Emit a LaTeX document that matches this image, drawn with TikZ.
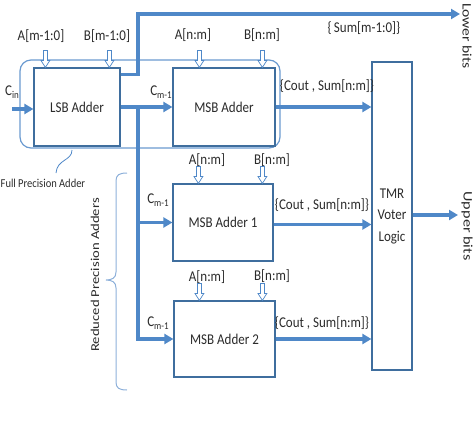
\documentclass[tikz,border=0pt]{standalone}
\usepackage{fontspec}
\setmainfont{Carlito}
\usetikzlibrary{arrows.meta,calc}
\definecolor{lineblue}{HTML}{4F88C8}
\definecolor{boxblue}{HTML}{3F6E9E}
\definecolor{lightblue}{HTML}{6A9AD0}
\definecolor{braceblue}{HTML}{8DB0DA}
\definecolor{txt}{HTML}{2B2B2B}
\newcommand\vs[1]{\scalebox{1}[1.15]{#1}}
\newcommand\sub[2]{#1\raisebox{-3pt}{\fontsize{9}{9}\selectfont #2}}
\begin{document}
\begin{tikzpicture}[x=1pt,y=-1pt,
  box/.style={draw=boxblue,line width=1.2pt,inner sep=0pt,text=txt,font=\fontsize{13}{14}\selectfont},
  flow/.style={draw=lineblue,line width=3.2pt,-{Triangle[length=9pt,width=10pt]}},
  lbl/.style={text=txt,font=\fontsize{13}{14}\selectfont,inner sep=0pt},
  small/.style={text=txt,font=\fontsize{12}{13}\selectfont,inner sep=0pt},
  hollow/.pic={\draw[draw=lineblue,fill=white,line width=0.7pt]
     (-2,-17)--(2,-17)--(2,-7)--(4.5,-7)--(0,0)--(-4.5,-7)--(-2,-7)--cycle;}
]
\useasboundingbox (0,0) rectangle (474,440);
\clip (0,0) rectangle (474,440);

% full precision frame
\node[draw=lightblue,line width=1.2pt,rounded corners=11pt,minimum width=260pt,minimum height=88pt,inner sep=0pt] (fpa) at (150,104) {};

% adders
\node[box,minimum width=86pt,minimum height=78pt] (lsb) at (77,107) {\vs{LSB Adder}};
\node[box,minimum width=102pt,minimum height=78pt,fill=white] (msb) at (224,107) {\vs{MSB Adder}};
\node[box,minimum width=100pt,minimum height=77pt] (msb1) at (223,222.5) {\vs{MSB Adder 1}};
\node[box,minimum width=101pt,minimum height=76pt] (msb2) at (224.5,339) {\vs{MSB Adder 2}};
\node[box,minimum width=40pt,minimum height=308pt,align=center,font=\fontsize{13}{21.5}\selectfont] (tmr) at (392,216) {\vs{TMR}\\\vs{Voter}\\\vs{Logic}};

% hollow input arrows
\pic at ($(lsb.north west)+(12,0)$) {hollow};
\pic at ($(lsb.north west)+(76,0)$) {hollow};
\pic at ($(msb.north west)+(27,0)$) {hollow};
\pic at ($(msb.north west)+(90,0)$) {hollow};
\pic at ($(msb1.north west)+(26,0)$) {hollow};
\pic at ($(msb1.north west)+(90,0)$) {hollow};
\pic at ($(msb2.north west)+(26,0)$) {hollow};
\pic at ($(msb2.north west)+(89,0)$) {hollow};

% input labels
\node[lbl] (la1) at (41,36) {\vs{A[m-1:0]}};
\node[lbl] (lb1) at (107,36) {\vs{B[m-1:0]}};
\node[lbl] (la2) at (193,35) {\vs{A[n:m]}};
\node[lbl] (lb2) at (262,35) {\vs{B[n:m]}};
\node[lbl] (la3) at (207,160) {\vs{A[n:m]}};
\node[lbl] (lb3) at (272,160) {\vs{B[n:m]}};
\node[lbl] (la4) at (207,277) {\vs{A[n:m]}};
\node[lbl] (lb4) at (272,276) {\vs{B[n:m]}};

% coordinates
\coordinate (cinstart) at (12,109);
\coordinate (lbstart) at ($(lsb.north east)+(0,7)$);
\coordinate (lbcorner) at (138,14);
\coordinate (lowerend) at (460,14);
\coordinate (br) at (138,107);
\coordinate (upperend) at (458,215);

% connectors
\draw[flow] (cinstart) -- (cinstart -| lsb.west);
\draw[flow] (lsb) -- (msb);
\draw[flow,rounded corners=0pt] (lbstart) -| (lbcorner) -- (lowerend);
\draw[flow] (br) |- (msb1.west);
\draw[flow] (br) |- (msb2.west);
\draw[flow] (msb) -- (msb -| tmr.west);
\draw[flow] ($(msb1.east)+(0,2)$) -- ($(msb1.east -| tmr.west)+(0,2)$);
\draw[flow] (msb2) -- (msb2 -| tmr.west);
\draw[flow] (tmr.east |- upperend) -- (upperend);

% signal labels
\node[lbl] (cin) at (12,92) {\vs{\sub{C}{in}}};
\node[lbl] (cm1) at (161,92) {\vs{\sub{C}{m-1}}};
\node[lbl] (cm2) at (158,200) {\vs{\sub{C}{m-1}}};
\node[lbl] (cm3) at (158,323) {\vs{\sub{C}{m-1}}};
\node[lbl] (sumlo) at (364,28) {\vs{\{\,Sum[m-1:0]\}}};
\node[lbl] (co1) at (327,86) {\vs{\{Cout , Sum[n:m]\}}};
\node[lbl] (co2) at (322,205) {\vs{\{Cout , Sum[n:m]\}}};
\node[lbl] (co3) at (322,323) {\vs{\{Cout , Sum[n:m]\}}};

% output labels
\node[lbl,font=\fontsize{13}{14}\selectfont,rotate=-90] (lower) at (467,36) {\scalebox{1.2}[1]{Lower bits}};
\node[lbl,font=\fontsize{13}{14}\selectfont,rotate=-90] (upper) at (467,226) {\scalebox{1.25}[1]{Upper bits}};

% full precision annotation
\node[lbl,font=\fontsize{10.5}{12}\selectfont,anchor=west] (fpl) at (0.5,183) {\vs{Full Precision Adder}};
\draw[draw=lineblue,line width=0.8pt] (72,150) .. controls (72,161) and (57,159) .. (56,173);

% reduced precision brace
\draw[draw=braceblue,line width=1pt] (127,173) .. controls (119,173) and (116,175) .. (116,181) -- (116,272)
  .. controls (116,278) and (112,280) .. (106,280) .. controls (112,280) and (116,282) .. (116,288)
  -- (116,382) .. controls (116,388) and (119,390) .. (127,390);
\node[small,rotate=90] (rpa) at (95,275) {\scalebox{1.22}[1]{Reduced Precision Adders}};
\end{tikzpicture}
\end{document}
